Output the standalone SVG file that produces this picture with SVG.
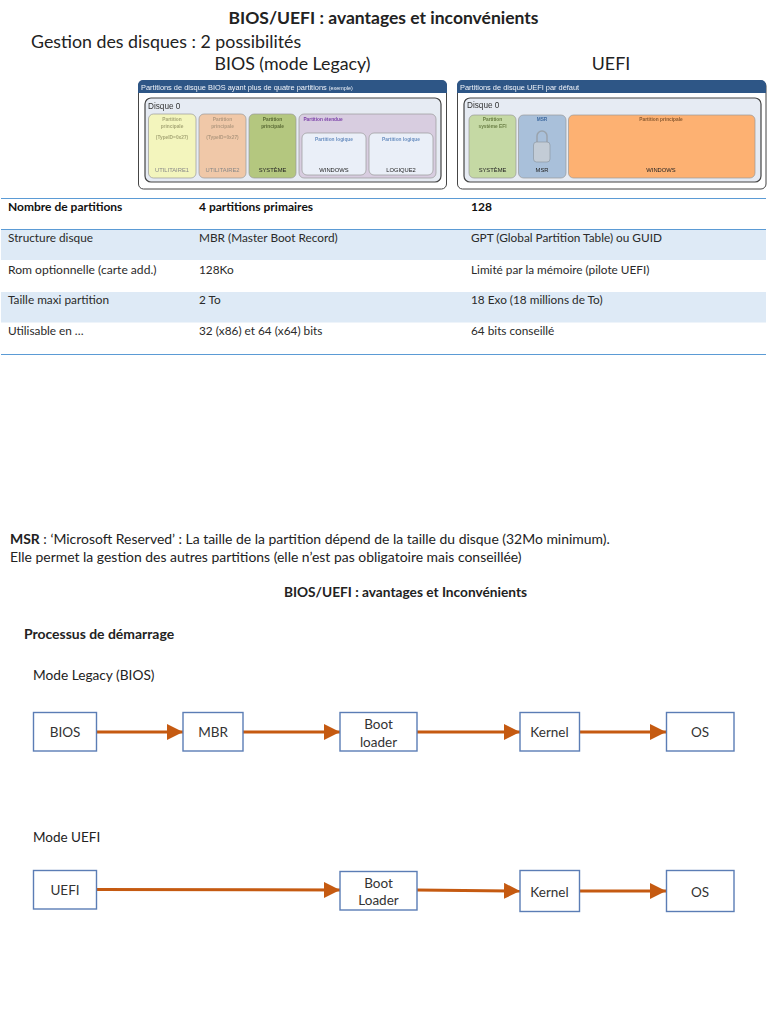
<svg xmlns="http://www.w3.org/2000/svg" width="768" height="1024" viewBox="0 0 768 1024">
<style>
text{font-family:Lato,"Open Sans","Liberation Sans",sans-serif;fill:#222}
.b{font-weight:700}
.c{text-anchor:middle}
.cell{font-size:11.8px;fill:#2a2a2a}
.wide{font-size:12.1px}
.head{font-size:12px;font-weight:700;fill:#111}
.node rect{fill:#fff;stroke:#5b7db5;stroke-width:1.4}
.node text{font-size:13.5px;text-anchor:middle;fill:#333}
.conn line{stroke:#c55a11;stroke-width:3}
.win{stroke:#444;stroke-width:1;fill:#fff}
.bar{fill:#2f5686}
.bartxt{font-family:"Liberation Sans",sans-serif;font-size:7.4px;fill:#f0f4fa}
.disk{fill:#e6ebf3;stroke:#444;stroke-width:1.2}
.dlabel{font-family:"Liberation Sans",sans-serif;font-size:8.2px;fill:#333}
.p{stroke:#999;stroke-width:.7}
.t{font-family:"Liberation Sans",sans-serif;font-size:4.8px;text-anchor:middle;font-weight:700}
.s{font-family:"Liberation Sans",sans-serif;font-size:5.8px;text-anchor:middle;fill:#444}
.ty{fill:#a8a878}.to{fill:#b39a80}.tg{fill:#5a6a35}.tl{fill:#6a8fc0}.tv{fill:#7b3fa8}.te{fill:#6a7f45}.tb{fill:#3f6aa0}.tr{fill:#8a5a30}.gr{fill:#888}.dk{fill:#222}
</style>
<defs>
<marker id="ah" markerUnits="userSpaceOnUse" markerWidth="17" markerHeight="17" refX="16" refY="8" orient="auto"><path d="M0 0L16 8L0 16Z" fill="#c55a11"/></marker>
<filter id="soft" x="-2%" y="-2%" width="104%" height="104%"><feGaussianBlur stdDeviation="0.4"/></filter>
</defs>
<rect width="768" height="1024" fill="#fff"/>
<text class="b c" x="383.500" y="24" font-size="17.500">BIOS/UEFI : avantages et inconvénients</text>
<text x="31" y="48" font-size="17.800">Gestion des disques : 2 possibilités</text>
<text class="c" x="292.500" y="70" font-size="17.800">BIOS (mode Legacy)</text>
<text class="c" x="611" y="70" font-size="17.800">UEFI</text>

<g id="bios-image" filter="url(#soft)">
<rect class="win" x="138.500" y="81" width="308" height="108" rx="5"/>
<path class="bar" d="M138 93V85a5 5 0 0 1 5-5H442a5 5 0 0 1 5 5V93Z"/>
<text class="bartxt" x="141" y="90">Partitions de disque BIOS ayant plus de quatre partitions <tspan font-size="5.4">(exemple)</tspan></text>
<rect class="disk" x="145" y="98" width="296" height="84" rx="6"/>
<text class="dlabel" x="148" y="109">Disque 0</text>
<rect class="p" x="148.500" y="114" width="47.500" height="64" rx="5" fill="#f3f5bd"/>
<text class="t ty" x="172" y="121">Partition</text><text class="t ty" x="172" y="128">principale</text><text class="t ty" x="172" y="139">(TypeID=0x27)</text>
<text class="s gr" x="172" y="172">UTILITAIRE1</text>
<rect class="p" x="199" y="114" width="47" height="64" rx="5" fill="#f0c8a8"/>
<text class="t to" x="222.500" y="121">Partition</text><text class="t to" x="222.500" y="128">principale</text><text class="t to" x="222.500" y="139">(TypeID=0x27)</text>
<text class="s gr" x="222.500" y="172">UTILITAIRE2</text>
<rect class="p" x="249" y="114" width="47" height="64" rx="5" fill="#b4c77f"/>
<text class="t tg" x="272.500" y="121">Partition</text><text class="t tg" x="272.500" y="128">principale</text>
<text class="s dk" x="272.500" y="172">SYSTÈME</text>
<rect class="p" x="299" y="114" width="137" height="64" rx="5" fill="#d8cde0"/>
<text class="t tv" x="323" y="121">Partition étendue</text>
<rect class="p" x="302" y="133" width="64" height="42" rx="5" fill="#eaeff8"/>
<text class="t tl" x="334" y="141">Partition logique</text>
<text class="s dk" x="334" y="172">WINDOWS</text>
<rect class="p" x="369" y="133" width="64" height="42" rx="5" fill="#eaeff8"/>
<text class="t tl" x="401" y="141">Partition logique</text>
<text class="s dk" x="401" y="172">LOGIQUE2</text>
</g>

<g id="uefi-image" filter="url(#soft)">
<rect class="win" x="457.500" y="81" width="308.500" height="108" rx="5"/>
<path class="bar" d="M457 93V85a5 5 0 0 1 5-5H761a5 5 0 0 1 5 5V93Z"/>
<text class="bartxt" x="460" y="90">Partitions de disque UEFI par défaut</text>
<rect class="disk" x="464" y="98" width="297" height="84" rx="6"/>
<text class="dlabel" x="467" y="108">Disque 0</text>
<rect class="p" x="469" y="115" width="47" height="63" rx="5" fill="#c5d9a4"/>
<text class="t te" x="492.500" y="121">Partition</text><text class="t te" x="492.500" y="128">système EFI</text>
<text class="s dk" x="492.500" y="172">SYSTÈME</text>
<rect class="p" x="518.500" y="115" width="47.500" height="63" rx="5" fill="#a9c0da"/>
<text class="t tb" x="542" y="121">MSR</text>
<path d="M537 143v-7a5 5 0 0 1 10 0v7" fill="none" stroke="#9aa3ad" stroke-width="1.500"/>
<rect x="533.500" y="142" width="16.500" height="20" rx="3" fill="#c3ccd6" stroke="#8d98a4" stroke-width=".7"/>
<text class="s dk" x="542" y="172">MSR</text>
<rect class="p" x="568.500" y="115" width="186.500" height="63" rx="5" fill="#fdb172"/>
<text class="t tr" x="661" y="121">Partition principale</text>
<text class="s dk" x="661" y="172">WINDOWS</text>
</g>

<g id="table">
<rect x="1" y="230" width="765" height="30" fill="#deeaf6"/>
<rect x="1" y="292" width="765" height="30.500" fill="#deeaf6"/>
<path d="M1 198.500H766M1 229.500H766M1 354.500H766" stroke="#5b9bd5" stroke-width="1" fill="none"/>
<text class="head" x="8" y="211">Nombre de partitions</text>
<text class="head" x="199" y="211">4 partitions primaires</text>
<text class="head" x="471" y="211">128</text>
<text class="cell" x="8" y="242">Structure disque</text>
<text class="cell" x="199" y="242">MBR (Master Boot Record)</text>
<text class="cell" x="471" y="242">GPT (Global Partition Table) ou GUID</text>
<text class="cell wide" x="8" y="274">Rom optionnelle (carte add.)</text>
<text class="cell" x="199" y="274">128Ko</text>
<text class="cell" x="471" y="274">Limité par la mémoire (pilote UEFI)</text>
<text class="cell" x="8" y="304">Taille maxi partition</text>
<text class="cell" x="199" y="304">2 To</text>
<text class="cell" x="471" y="304">18 Exo (18 millions de To)</text>
<text class="cell" x="8" y="335">Utilisable en …</text>
<text class="cell" x="199" y="335">32 (x86) et 64 (x64) bits</text>
<text class="cell" x="471" y="335">64 bits conseillé</text>
</g>

<text x="10" y="544" font-size="13.950"><tspan class="b">MSR</tspan> : ‘Microsoft Reserved’ : La taille de la partition dépend de la taille du disque (32Mo minimum).</text>
<text x="10" y="562" font-size="13.950">Elle permet la gestion des autres partitions (elle n’est pas obligatoire mais conseillée)</text>
<text class="b c" x="405.500" y="597" font-size="13.700">BIOS/UEFI : avantages et Inconvénients</text>
<text class="b" x="24" y="639" font-size="13.950">Processus de démarrage</text>
<text x="33" y="680" font-size="13.700">Mode Legacy (BIOS)</text>
<text x="33" y="842" font-size="13.500">Mode UEFI</text>

<g id="connectors" class="conn">
<line x1="96.500" y1="732" x2="183" y2="732" marker-end="url(#ah)"/>
<line x1="243" y1="732" x2="340" y2="732" marker-end="url(#ah)"/>
<line x1="417" y1="732" x2="520" y2="732" marker-end="url(#ah)"/>
<line x1="579.500" y1="732" x2="666" y2="732" marker-end="url(#ah)"/>
<line x1="96.500" y1="889.500" x2="340" y2="890" marker-end="url(#ah)"/>
<line x1="417" y1="890" x2="520" y2="891" marker-end="url(#ah)"/>
<line x1="579.500" y1="891" x2="666" y2="891" marker-end="url(#ah)"/>
</g>

<g id="n-bios" class="node"><rect x="33.500" y="712.500" width="63" height="38.500"/><text x="65" y="737">BIOS</text></g>
<g id="n-mbr" class="node"><rect x="183" y="712.500" width="60" height="38.500"/><text x="213" y="737">MBR</text></g>
<g id="n-boot" class="node"><rect x="340" y="712.500" width="77" height="38.500"/><text x="378.500" y="729">Boot</text><text x="378.500" y="747">loader</text></g>
<g id="n-kernel" class="node"><rect x="520" y="712.500" width="59.500" height="38.500"/><text x="549.500" y="737">Kernel</text></g>
<g id="n-os" class="node"><rect x="666.500" y="712.500" width="67.500" height="38.500"/><text x="700" y="737">OS</text></g>
<g id="n-uefi" class="node"><rect x="33.500" y="870.500" width="63" height="38.500"/><text x="65" y="895">UEFI</text></g>
<g id="n-boot2" class="node"><rect x="340" y="871.500" width="77" height="38.500"/><text x="378.500" y="887.500">Boot</text><text x="378.500" y="904.500">Loader</text></g>
<g id="n-kernel2" class="node"><rect x="520" y="870.500" width="59.500" height="41"/><text x="549.500" y="897">Kernel</text></g>
<g id="n-os2" class="node"><rect x="666.500" y="870.500" width="67.500" height="41"/><text x="700" y="897">OS</text></g>
</svg>
